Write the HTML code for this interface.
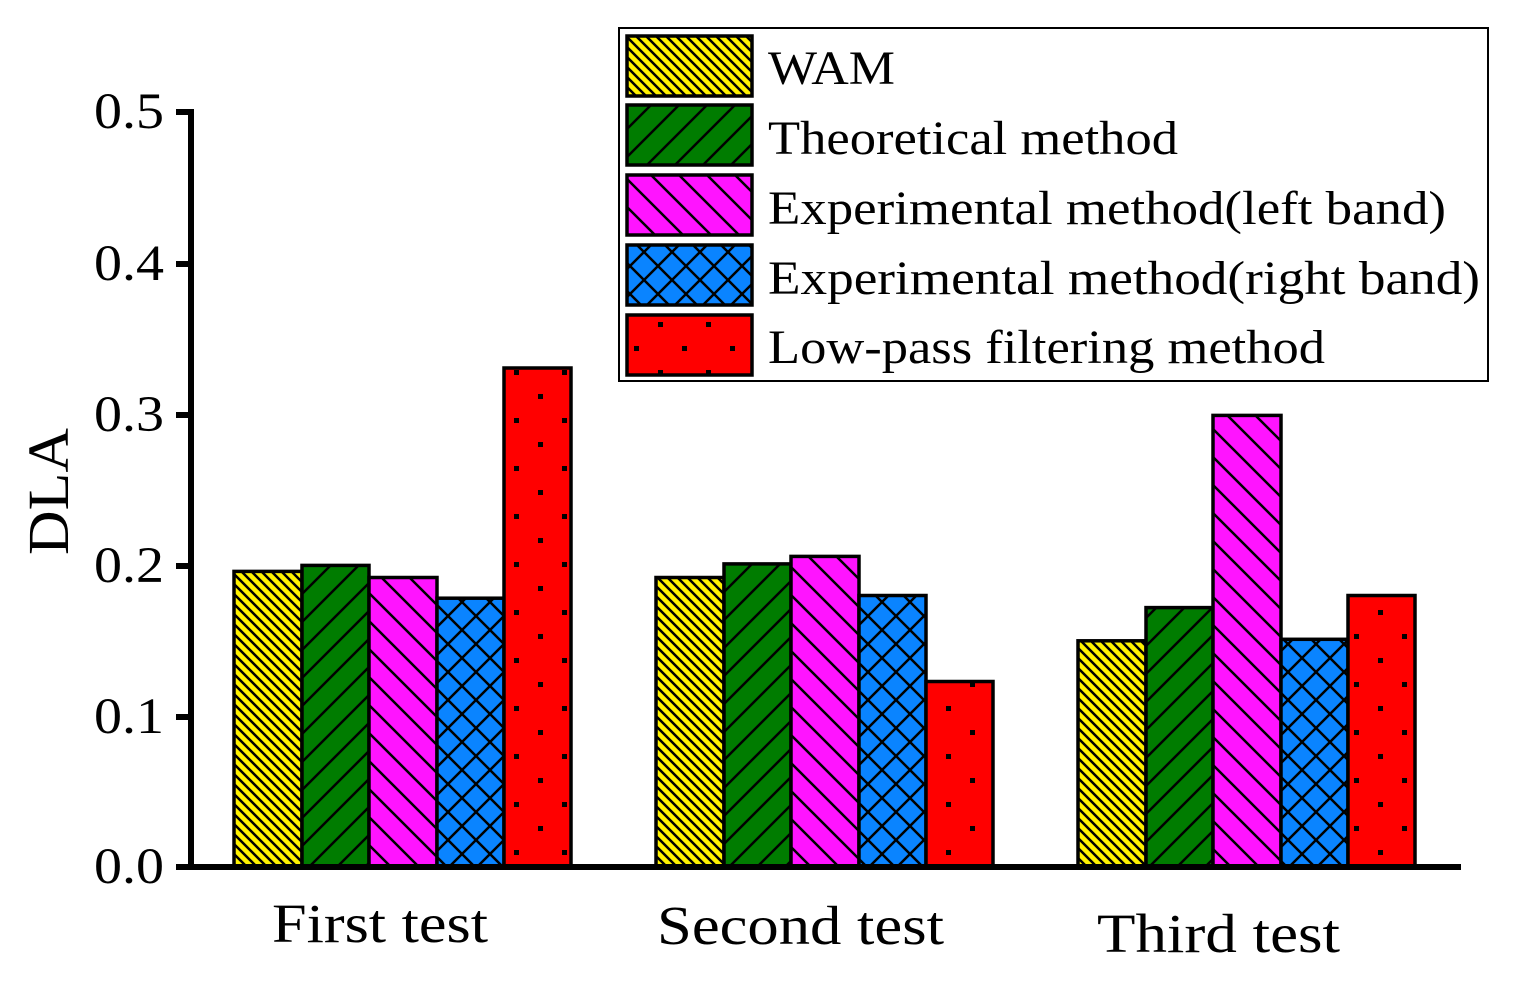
<!DOCTYPE html><html><head><style>body{margin:0;background:#fff}</style></head><body>
<svg width="1516" height="990" xmlns="http://www.w3.org/2000/svg" font-family="Liberation Serif, serif">
<defs>
<pattern id="py" width="10" height="10" patternUnits="userSpaceOnUse"><rect width="10" height="10" fill="#fff200"/><path d="M-5,-5L15,15M-5,5L5,15M5,-5L15,5" stroke="#000" stroke-width="2.5"/></pattern>
<pattern id="pg" width="28" height="28" patternUnits="userSpaceOnUse"><rect width="28" height="28" fill="#007c00"/><path d="M-7,35L35,-7M-7,7L7,-7M21,35L35,21" stroke="#000" stroke-width="2.5"/></pattern>
<pattern id="pm" width="28" height="28" patternUnits="userSpaceOnUse"><rect width="28" height="28" fill="#ff14ff"/><path d="M-7,-7L35,35M-7,21L7,35M21,-7L35,7" stroke="#000" stroke-width="2.5"/></pattern>
<pattern id="pb" width="28" height="28" patternUnits="userSpaceOnUse"><rect width="28" height="28" fill="#0a84ff"/><path d="M-7,-7L35,35M-7,21L7,35M21,-7L35,7M-7,35L35,-7M-7,7L7,-7M21,35L35,21" stroke="#000" stroke-width="2.5"/></pattern>
<pattern id="pr" width="48" height="48" patternUnits="userSpaceOnUse"><rect width="48" height="48" fill="#ff0000"/><rect x="10" y="10" width="5" height="5" fill="#000"/><rect x="34" y="34" width="5" height="5" fill="#000"/></pattern>
</defs>
<g stroke="#000" stroke-width="3.5">
<rect x="234" y="571.4" width="68" height="294.6" fill="url(#py)"/>
<rect x="302" y="565.4" width="67" height="300.6" fill="url(#pg)"/>
<rect x="369" y="577.5" width="68" height="288.5" fill="url(#pm)"/>
<rect x="437" y="598.2" width="67" height="267.8" fill="url(#pb)"/>
<rect x="504" y="368" width="67" height="498" fill="url(#pr)"/>
<rect x="656" y="577.5" width="68" height="288.5" fill="url(#py)"/>
<rect x="724" y="563.9" width="67" height="302.1" fill="url(#pg)"/>
<rect x="791" y="556.4" width="68" height="309.6" fill="url(#pm)"/>
<rect x="859" y="595.5" width="67" height="270.5" fill="url(#pb)"/>
<rect x="926" y="681.5" width="67" height="184.5" fill="url(#pr)"/>
<rect x="1078" y="640.8" width="68" height="225.2" fill="url(#py)"/>
<rect x="1146" y="607.6" width="67" height="258.4" fill="url(#pg)"/>
<rect x="1213" y="415.4" width="68" height="450.6" fill="url(#pm)"/>
<rect x="1281" y="639.3" width="67" height="226.7" fill="url(#pb)"/>
<rect x="1348" y="595.5" width="67" height="270.5" fill="url(#pr)"/>
</g>
<g stroke="#000" stroke-width="6">
<line x1="191" y1="109" x2="191" y2="869"/>
<line x1="176" y1="867" x2="1461" y2="867"/>
<line x1="176" y1="112" x2="191" y2="112"/>
<line x1="176" y1="264" x2="191" y2="264"/>
<line x1="176" y1="415" x2="191" y2="415"/>
<line x1="176" y1="566" x2="191" y2="566"/>
<line x1="176" y1="717" x2="191" y2="717"/>
</g>
<g font-size="51" lengthAdjust="spacingAndGlyphs">
<text x="94" y="128" textLength="70" lengthAdjust="spacingAndGlyphs">0.5</text><text x="94" y="280" textLength="70" lengthAdjust="spacingAndGlyphs">0.4</text><text x="94" y="431" textLength="70" lengthAdjust="spacingAndGlyphs">0.3</text><text x="94" y="582" textLength="70" lengthAdjust="spacingAndGlyphs">0.2</text><text x="94" y="733" textLength="70" lengthAdjust="spacingAndGlyphs">0.1</text><text x="94" y="883" textLength="70" lengthAdjust="spacingAndGlyphs">0.0</text>
</g>
<text transform="translate(68,555) rotate(-90)" font-size="58" textLength="127" lengthAdjust="spacingAndGlyphs">DLA</text>
<g font-size="55">
<text x="272" y="942" textLength="216" lengthAdjust="spacingAndGlyphs">First test</text><text x="657" y="944" textLength="287" lengthAdjust="spacingAndGlyphs">Second test</text><text x="1097" y="952" textLength="243" lengthAdjust="spacingAndGlyphs">Third test</text>
</g>
<rect x="619" y="28" width="869" height="353" fill="#fff" stroke="#000" stroke-width="2"/>
<g stroke="#000" stroke-width="3.5">
<rect x="627" y="36" width="125" height="60" fill="url(#py)"/>
<rect x="627" y="105" width="125" height="60" fill="url(#pg)"/>
<rect x="627" y="175" width="125" height="60" fill="url(#pm)"/>
<rect x="627" y="245" width="125" height="60" fill="url(#pb)"/>
<rect x="627" y="315" width="125" height="60" fill="url(#pr)"/>
</g>
<g font-size="48">
<text x="768" y="84" textLength="127" lengthAdjust="spacingAndGlyphs">WAM</text>
<text x="768" y="154" textLength="410" lengthAdjust="spacingAndGlyphs">Theoretical method</text>
<text x="768" y="224" textLength="678" lengthAdjust="spacingAndGlyphs">Experimental method(left band)</text>
<text x="768" y="294" textLength="712" lengthAdjust="spacingAndGlyphs">Experimental method(right band)</text>
<text x="768" y="363" textLength="557" lengthAdjust="spacingAndGlyphs">Low-pass filtering method</text>
</g>
</svg></body></html>
